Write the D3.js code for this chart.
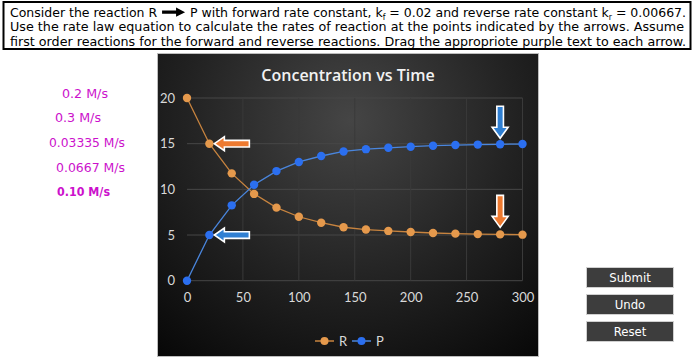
<!DOCTYPE html>
<html><head><meta charset="utf-8">
<script src="https://cdn.jsdelivr.net/npm/d3@7"></script>
<style>body{margin:0;background:#fff;} svg{display:block;}</style>
</head><body><svg id="c" width="694" height="361"></svg>
<script>
// ---- data ----
const times   = [0, 20, 40, 60, 80, 100, 120, 140, 160, 180, 200, 220, 240, 260, 280, 300];
const rValues = [20, 15, 11.75, 9.5, 8.0, 7.0, 6.35, 5.85, 5.6, 5.45, 5.33, 5.22, 5.15, 5.1, 5.07, 5.04];
const pValues = [0, 5, 8.25, 10.5, 12.0, 13.0, 13.65, 14.15, 14.4, 14.55, 14.67, 14.78, 14.85, 14.9, 14.93, 14.96];
const yTicks = [0, 5, 10, 15, 20];
const xTicks = [0, 50, 100, 150, 200, 250, 300];
const seriesNames = ["R", "P"];
const rateLabels = ["0.2 M/s", "0.3 M/s", "0.03335 M/s", "0.0667 M/s", "0.10 M/s"];
const buttonLabels = ["Submit", "Undo", "Reset"];
const chartTitle = "Concentration vs Time";
const arrowTimes = [20, 280];

const svg = d3.select("#c");
const uiFont = "'DejaVu Sans Condensed','DejaVu Sans',sans-serif";
const chartFont = "Lato,'Open Sans',sans-serif";

// ---- header ----
svg.append("rect").attr("x", 3.5).attr("y", 2).attr("width", 687).attr("height", 47)
  .attr("fill", "#fff").attr("stroke", "#000").attr("stroke-width", 2);
const hdr = svg.append("g").attr("font-family", uiFont).attr("font-size", 13).attr("fill", "#000");
const l1 = hdr.append("text").attr("x", 10).attr("y", 16.5).attr("textLength", 676).attr("lengthAdjust", "spacingAndGlyphs");
const pre = "Consider the reaction R ";
l1.append("tspan").text(pre);
l1.append("tspan").attr("fill", "none").text("\u2014\u2014");
l1.append("tspan").text(" P with forward rate constant, k");
l1.append("tspan").attr("font-size", 8).attr("dy", 3).text("f");
l1.append("tspan").attr("dy", -3).text(" = 0.02 and reverse rate constant k");
l1.append("tspan").attr("font-size", 8).attr("dy", 3).text("r");
l1.append("tspan").attr("dy", -3).text(" = 0.00667.");
// reaction arrow placed over the placeholder
{
  const n = l1.node();
  let ax0 = 145, ax1 = 172;
  try {
    const e0 = n.getExtentOfChar(pre.length), e1 = n.getExtentOfChar(pre.length + 1);
    ax0 = e0.x + 1; ax1 = e1.x + e1.width - 1;
  } catch (err) {}
  const cy = 12.2, hx = ax1 - 9;
  hdr.append("path").attr("d", `M${ax0},${cy - 1.6} L${hx},${cy - 1.6} L${hx},${cy - 4.6} L${ax1},${cy} L${hx},${cy + 4.6} L${hx},${cy + 1.6} L${ax0},${cy + 1.6} Z`)
    .attr("fill", "#000");
}
hdr.append("text").attr("x", 10).attr("y", 31).attr("textLength", 674).attr("lengthAdjust", "spacingAndGlyphs")
  .text("Use the rate law equation to calculate the rates of reaction at the points indicated by the arrows.  Assume");
hdr.append("text").attr("x", 10).attr("y", 45.5).attr("textLength", 676).attr("lengthAdjust", "spacingAndGlyphs")
  .text("first order reactions for the forward and reverse reactions.  Drag the appropriote purple text to each arrow.");

// ---- purple rate labels ----
const labelPos = [[62, 98, 46], [55, 122, 46], [49, 147, 76], [56, 172, 69], [57, 196, 53]];
svg.append("g").attr("font-family", uiFont).attr("font-size", 12.5).attr("fill", "#cc11cc")
  .selectAll("text").data(rateLabels).join("text")
  .attr("x", (d, i) => labelPos[i][0]).attr("y", (d, i) => labelPos[i][1])
  .attr("textLength", (d, i) => labelPos[i][2]).attr("lengthAdjust", "spacingAndGlyphs")
  .attr("font-weight", (d, i) => i === 4 ? "bold" : "normal")
  .text(d => d);

// ---- chart background ----
const defs = svg.append("defs");
const rg = defs.append("radialGradient").attr("id", "bg").attr("gradientUnits", "userSpaceOnUse")
  .attr("cx", 350).attr("cy", 120).attr("r", 300);
rg.append("stop").attr("offset", "0%").attr("stop-color", "#454545");
rg.append("stop").attr("offset", "55%").attr("stop-color", "#222");
rg.append("stop").attr("offset", "100%").attr("stop-color", "#080808");
svg.append("rect").attr("x", 157.5).attr("y", 53.5).attr("width", 381).attr("height", 303)
  .attr("fill", "url(#bg)").attr("stroke", "#bdbdbd").attr("stroke-width", 1);

const x = d3.scaleLinear().domain([0, 300]).range([187, 522.5]);
const y = d3.scaleLinear().domain([0, 20]).range([280.7, 98]);

// gridlines
const grid = svg.append("g");
grid.selectAll("line.h").data(yTicks).join("line").attr("class", "h")
  .attr("x1", x(0)).attr("x2", x(300)).attr("y1", d => y(d)).attr("y2", d => y(d))
  .attr("stroke", "#474747").attr("stroke-width", 1);
grid.selectAll("line.v").data(xTicks.slice(1)).join("line").attr("class", "v")
  .attr("x1", d => x(d)).attr("x2", d => x(d)).attr("y1", y(20)).attr("y2", y(0))
  .attr("stroke", "#3a3a3a").attr("stroke-width", 1);

// axes labels
const yAxis = svg.append("g").attr("transform", `translate(${x(0) - 12},0)`)
  .call(d3.axisLeft(y).tickValues(yTicks).tickSize(0).tickPadding(0));
yAxis.select(".domain").remove();
yAxis.selectAll("text").attr("fill", "#d9d9d9").attr("font-size", 13).attr("font-family", chartFont);
const xAxis = svg.append("g").attr("transform", `translate(0,${y(0) + 12})`)
  .call(d3.axisBottom(x).tickValues(xTicks).tickSize(0).tickPadding(0));
xAxis.select(".domain").remove();
xAxis.selectAll("text").attr("fill", "#d9d9d9").attr("font-size", 13).attr("font-family", chartFont);

// title
svg.append("text").attr("x", 348).attr("y", 81).attr("text-anchor", "middle")
  .attr("font-family", "'Open Sans',Lato,sans-serif").attr("font-weight", 600).attr("font-size", 16)
  .attr("fill", "#f2f2f2").text(chartTitle);

// series
const series = [
  { name: seriesNames[0], values: rValues, line: "#c8843f", dot: "#e5994c" },
  { name: seriesNames[1], values: pValues, line: "#4a86dd", dot: "#2b6ff0" }
];
const lineGen = d3.line().x((d, i) => x(times[i])).y(d => y(d));
series.forEach(s => {
  svg.append("path").datum(s.values).attr("d", lineGen).attr("fill", "none")
    .attr("stroke", s.line).attr("stroke-width", 1.3);
});
series.forEach(s => {
  svg.append("g").selectAll("circle").data(s.values).join("circle")
    .attr("cx", (d, i) => x(times[i])).attr("cy", d => y(d)).attr("r", 4.2)
    .attr("fill", s.dot);
});

// legend
const lg = svg.append("g").attr("font-family", chartFont).attr("font-size", 13).attr("fill", "#d9d9d9");
const legX = [315, 352];
series.forEach((s, i) => {
  const lx = legX[i];
  lg.append("line").attr("x1", lx).attr("x2", lx + 19).attr("y1", 341).attr("y2", 341)
    .attr("stroke", s.line).attr("stroke-width", 1.5);
  lg.append("circle").attr("cx", lx + 9.5).attr("cy", 341).attr("r", 4).attr("fill", s.dot);
  lg.append("text").attr("x", lx + 24).attr("y", 346).text(s.name);
});

// arrows
function leftArrow(tipX, cy) {
  const L = 35, hl = 10, hh = 7, sh = 3.3;
  return `M${tipX},${cy} L${tipX + hl},${cy - hh} L${tipX + hl},${cy - sh} L${tipX + L},${cy - sh} L${tipX + L},${cy + sh} L${tipX + hl},${cy + sh} L${tipX + hl},${cy + hh} Z`;
}
function downArrow(cx, tipY) {
  const L = 32, hl = 11, hh = 8, sh = 3.3;
  return `M${cx},${tipY} L${cx - hh},${tipY - hl} L${cx - sh},${tipY - hl} L${cx - sh},${tipY - L} L${cx + sh},${tipY - L} L${cx + sh},${tipY - hl} L${cx + hh},${tipY - hl} Z`;
}
const iA = times.indexOf(arrowTimes[0]), iB = times.indexOf(arrowTimes[1]);
const arrows = [
  { d: leftArrow(x(arrowTimes[0]) + 5, y(rValues[iA])), fill: "#ee7a30" },
  { d: leftArrow(x(arrowTimes[0]) + 5, y(pValues[iA])), fill: "#2f7fd2" },
  { d: downArrow(x(arrowTimes[1]), y(pValues[iB]) - 6), fill: "#2f7fd2" },
  { d: downArrow(x(arrowTimes[1]), y(rValues[iB]) - 7), fill: "#ee7a30" }
];
svg.append("g").selectAll("path").data(arrows).join("path")
  .attr("d", d => d.d).attr("fill", d => d.fill).attr("stroke", "#fff").attr("stroke-width", 1.6)
  .attr("stroke-linejoin", "miter");

// buttons
const btnY = [267, 294, 321];
const bg = svg.append("g").selectAll("g").data(buttonLabels).join("g");
bg.append("rect").attr("x", 586.5).attr("y", (d, i) => btnY[i] + 0.5).attr("width", 87).attr("height", 20)
  .attr("fill", "#3d3d3d").attr("stroke", "#d0d0d0").attr("stroke-width", 1);
bg.append("text").attr("x", 630).attr("y", (d, i) => btnY[i] + 15).attr("text-anchor", "middle")
  .attr("font-family", uiFont).attr("font-size", 13).attr("fill", "#fff").text(d => d);
</script></body></html>
